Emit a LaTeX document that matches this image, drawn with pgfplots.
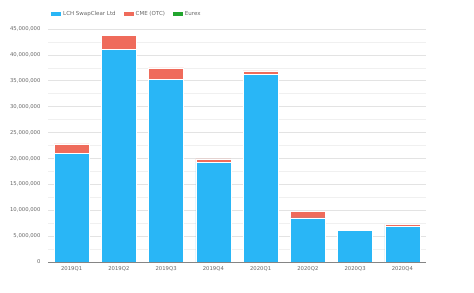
\documentclass[border=0pt]{standalone}
\usepackage{pgfplots}
\pgfplotsset{compat=1.18}
\usepackage{fontspec}
\setmainfont{DejaVu Sans}
\definecolor{lchblue}{HTML}{29B6F6}
\definecolor{cmered}{HTML}{EF6B5B}
\definecolor{eurexgreen}{HTML}{22A52E}
\definecolor{tickgray}{HTML}{666666}
\definecolor{gridgray}{HTML}{E3E3E3}
\definecolor{minorgray}{HTML}{F0F0F0}
\begin{document}
\begin{tikzpicture}[x=1pt,y=1pt]
\path (0,0) rectangle (474,292);
\begin{axis}[
  name=ax,
  at={(48pt,30pt)}, anchor=south west,
  scale only axis, width=378pt, height=233pt,
  ybar stacked, bar width=35pt,
  xmin=-0.5, xmax=7.5, ymin=0, ymax=45000000,
  xtick=data,
  xticklabels={2019Q1,2019Q2,2019Q3,2019Q4,2020Q1,2020Q2,2020Q3,2020Q4},
  ytick={0,5000000,10000000,15000000,20000000,25000000,30000000,35000000,40000000,45000000},
  minor ytick={2500000,7500000,12500000,17500000,22500000,27500000,32500000,37500000,42500000},
  scaled y ticks=false,
  /pgf/number format/fixed,
  /pgf/number format/1000 sep={,},
  /pgf/number format/assume math mode=true,
  ticklabel style={font=\fontsize{5.3}{6}\selectfont, text=tickgray},
  ymajorgrids, yminorgrids,
  major grid style={gridgray, line width=0.6pt},
  minor grid style={minorgray, line width=0.5pt},
  axis x line*=bottom, axis y line*=left,
  y axis line style={draw=none},
  x axis line style={draw=none},
  major tick length=0pt, minor tick length=0pt,
  xticklabel style={yshift=-1pt},
  yticklabel style={xshift=-4pt},
  legend style={at={(0,1)}, anchor=south west, yshift=8pt, draw=none, fill=none,
    font=\fontsize{5.5}{6}\selectfont\color{tickgray}, legend columns=3,
    /tikz/every even column/.append style={column sep=6pt}},
  legend image code/.code={\fill[#1,draw=none] (0pt,-2.2pt) rectangle (10pt,2.2pt);},
  clip=false,
]
\addplot[fill=lchblue, draw=white, line width=0.6pt] coordinates {
(0,21050000) (1,41100000) (2,35300000) (3,19300000) (4,36300000) (5,8500000) (6,6150000) (7,6950000)};
\addplot[fill=cmered, draw=white, line width=0.6pt] coordinates {
(0,1750000) (1,2700000) (2,2200000) (3,600000) (4,600000) (5,1200000) (6,150000) (7,300000)};
\addplot[fill=eurexgreen, draw=none] coordinates {
(0,0) (1,0) (2,0) (3,0) (4,0) (5,0) (6,0) (7,0)};
\legend{LCH SwapClear Ltd, CME (OTC), Eurex}
\end{axis}
\draw[tickgray!80, line width=0.8pt] (ax.south west) -- (ax.south east);
\end{tikzpicture}
\end{document}
